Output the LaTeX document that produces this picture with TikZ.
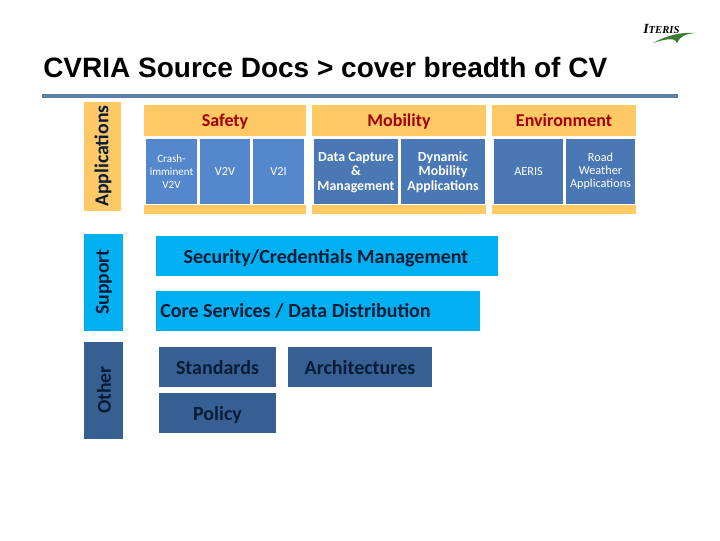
\documentclass[tikz,border=0pt]{standalone}
\usepackage{fontspec}
\setmainfont{Carlito}
\newfontfamily\titlefont{Liberation Sans}
\newfontfamily\logofont{Liberation Serif}
\definecolor{barOrange}{RGB}{255,201,102}
\definecolor{safeBlue}{RGB}{85,135,204}
\definecolor{mobBlue}{RGB}{74,120,180}
\definecolor{supCyan}{RGB}{0,176,240}
\definecolor{othBlue}{RGB}{55,96,146}
\definecolor{ruleBlue}{RGB}{91,127,166}
\definecolor{headRed}{RGB}{165,0,0}
\definecolor{inkNavy}{RGB}{8,28,56}
\definecolor{logoGreen}{RGB}{60,125,50}
\tikzset{
  box/.style 2 args={inner sep=0pt,minimum width=#1*0.75pt,minimum height=#2*0.75pt,align=center},
  sidetext/.style={text=inkNavy,font=\fontsize{14.8}{16}\selectfont\bfseries,rotate=90,inner sep=0pt},
  headbox/.style={fill=barOrange,text=headRed,font=\fontsize{13.5}{15}\selectfont\bfseries,text height=13pt,text depth=3.3pt},
  stripbox/.style={fill=barOrange},
  smalltext/.style={text=white,font=\fontsize{8.3}{9.75}\selectfont},
  midtext/.style={text=white,font=\fontsize{10.4}{10.9}\selectfont\bfseries,inner sep=0pt,align=center,anchor=north},
  envtext/.style={text=white,font=\fontsize{9.2}{9.75}\selectfont},
  bigtext/.style={text=inkNavy,font=\fontsize{15}{17}\selectfont\bfseries,inner sep=0pt,text height=14pt,text depth=3.3pt},
}
\begin{document}
\begin{tikzpicture}[x=0.75pt,y=0.75pt,yscale=-1,xscale=1]
\useasboundingbox (0,0) rectangle (720,540);

%title and rule
\node[anchor=base west,inner sep=0pt,font=\titlefont\fontsize{21}{24}\selectfont\bfseries] (title) at (43,77) {CVRIA Source Docs > cover breadth of CV};
\coordinate (ruleL) at (42,96);
\coordinate (ruleR) at (678,96);
\draw[ruleBlue,line width=2.4pt] (ruleL) -- (ruleR);

%logo
\node[anchor=base west,inner sep=0pt,font=\logofont\fontsize{10.5}{10}\selectfont\bfseries\itshape] (logo) at (643,33) {I\fontsize{8}{10}\selectfont TERIS};
\fill[logoGreen] (653,43) .. controls (667,35) and (682,32) .. (695,33) .. controls (684,34) and (680,37) .. (677,43) .. controls (676,38) and (668,38) .. (653,43) -- cycle;

%side bars
\node[box={37}{109},fill=barOrange] (applications) at (102.5,156.5) {};
\node[sidetext] (applicationsT) at (103,156) {Applications};
\node[box={39}{97},fill=supCyan] (support) at (103.5,282.5) {};
\node[sidetext] (supportT) at (104,282) {Support};
\node[box={39}{97},fill=othBlue] (other) at (103.5,390.5) {};
\node[sidetext] (otherT) at (104,390) {Other};

%safety
\node[box={162}{31},headbox] (safety) at (225,120.5) {Safety};
\node[box={162}{9},stripbox] (safetyS) at (225,209.5) {};
\node[box={51}{65},fill=safeBlue,smalltext] (crash) at (171.5,171.5) {Crash-\\imminent\\V2V};
\node[box={50}{65},fill=safeBlue,envtext] (vtov) at (225,171.5) {V2V};
\node[box={51}{65},fill=safeBlue,envtext] (vtoi) at (278.5,171.5) {V2I};

%mobility
\node[box={174}{31},headbox] (mobility) at (399,120.5) {Mobility};
\node[box={174}{9},stripbox] (mobilityS) at (399,209.5) {};
\node[box={84}{65},fill=mobBlue] (capture) at (356,171.5) {};
\node[midtext] (captureT) at (356,152) {Data Capture\\\&\\Management};
\node[box={84}{65},fill=mobBlue] (dynamic) at (443,171.5) {};
\node[midtext] (dynamicT) at (443,151) {Dynamic\\Mobility\\Applications};

%environment
\node[box={144}{31},headbox] (environment) at (564,120.5) {Environment};
\node[box={144}{9},stripbox] (environmentS) at (564,209.5) {};
\node[box={69}{65},fill=mobBlue,envtext] (aeris) at (528.5,171.5) {AERIS};
\node[box={69}{65},fill=mobBlue,envtext] (road) at (600.5,171.5) {Road\\Weather\\Applications};

%support rows
\node[box={342}{40},fill=supCyan] (security) at (327,256) {};
\node[bigtext] (securityT) at (326,256) {Security/Credentials Management};
\node[box={324}{40},fill=supCyan] (core) at (318,311) {};
\node[bigtext] (coreT) at (295.5,310.5) {Core Services / Data Distribution};

%other rows
\node[box={117}{40},fill=othBlue,bigtext] (standards) at (217.5,367) {Standards};
\node[box={144}{40},fill=othBlue,bigtext] (architectures) at (360,367) {Architectures};
\node[box={117}{40},fill=othBlue,bigtext] (policy) at (217.5,413) {Policy};

\end{tikzpicture}
\end{document}
